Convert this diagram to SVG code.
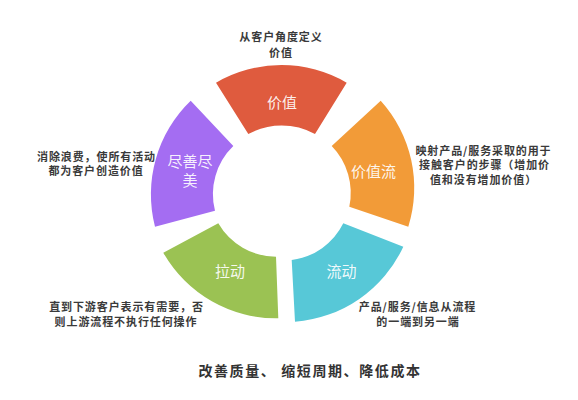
<svg xmlns="http://www.w3.org/2000/svg" width="578" height="400" viewBox="0 0 578 400">
<style>
.seg-label{font-family:"Noto Sans CJK SC","Noto Sans",sans-serif;font-size:15px;fill:#ffffff;fill-opacity:0.92;text-anchor:middle;dominant-baseline:central}
.desc{font-family:"Noto Sans CJK SC","Noto Sans",sans-serif;font-size:11px;font-weight:bold;fill:#3a3a3a;text-anchor:middle;letter-spacing:0.9px;dominant-baseline:central}
.title{font-family:"Noto Sans CJK SC","Noto Sans",sans-serif;font-size:14px;font-weight:bold;fill:#333333;text-anchor:middle;letter-spacing:1.6px;dominant-baseline:central}
</style>
<rect width="578" height="400" fill="#ffffff"/>
<g id="node-value">
<path d="M216,82.7 A130,130 0 0 1 346.7,82.7 L315,134 A70,70 0 0 0 248.3,134 Z" fill="#DF5B3E"/>
<text class="seg-label" x="282" y="101.5">价值</text>
<text class="desc" x="281" y="36">从客户角度定义</text>
<text class="desc" x="281" y="51.5">价值</text>
</g>
<g id="node-valuestream">
<path d="M380.7,100.7 A130,130 0 0 1 408.3,226.7 L349.3,206.7 A67,67 0 0 0 331.7,146 Z" fill="#F29B38"/>
<text class="seg-label" x="373.5" y="170">价值流</text>
<text class="desc" x="483.5" y="149.5">映射产品/服务采取的用于</text>
<text class="desc" x="484.5" y="164">接触客户的步骤（增加价</text>
<text class="desc" x="483.5" y="178.5">值和没有增加价值）</text>
</g>
<g id="node-flow">
<path d="M403.3,246.7 A130,130 0 0 1 295,321.7 L291.7,260 A67,67 0 0 0 343.3,223.3 Z" fill="#57C8D7"/>
<text class="seg-label" x="341.5" y="270.5">流动</text>
<text class="desc" x="417.5" y="306">产品/服务/信息从流程</text>
<text class="desc" x="418" y="320.7">的一端到另一端</text>
</g>
<g id="node-pull">
<path d="M278.3,318.3 A130,130 0 0 1 163.3,252.7 L218.3,223.3 A67,67 0 0 0 276,256.7 Z" fill="#9BC253"/>
<text class="seg-label" x="230" y="270.5">拉动</text>
<text class="desc" x="126.5" y="306">直到下游客户表示有需要，否</text>
<text class="desc" x="126" y="320.7">则上游流程不执行任何操作</text>
</g>
<g id="node-perfection">
<path d="M155,226.7 A130,130 0 0 1 190.7,100.7 L233.3,146 A67,67 0 0 0 215,210.7 Z" fill="#A46DF2"/>
<text class="seg-label" x="190" y="160">尽善尽</text>
<text class="seg-label" x="190" y="179.5">美</text>
<text class="desc" x="96.5" y="155.5">消除浪费，使所有活动</text>
<text class="desc" x="96" y="170">都为客户创造价值</text>
</g>
<g id="connectors"></g>
<g id="caption">
<text class="title" x="310" y="370">改善质量、 缩短周期、降低成本</text>
</g>
</svg>
